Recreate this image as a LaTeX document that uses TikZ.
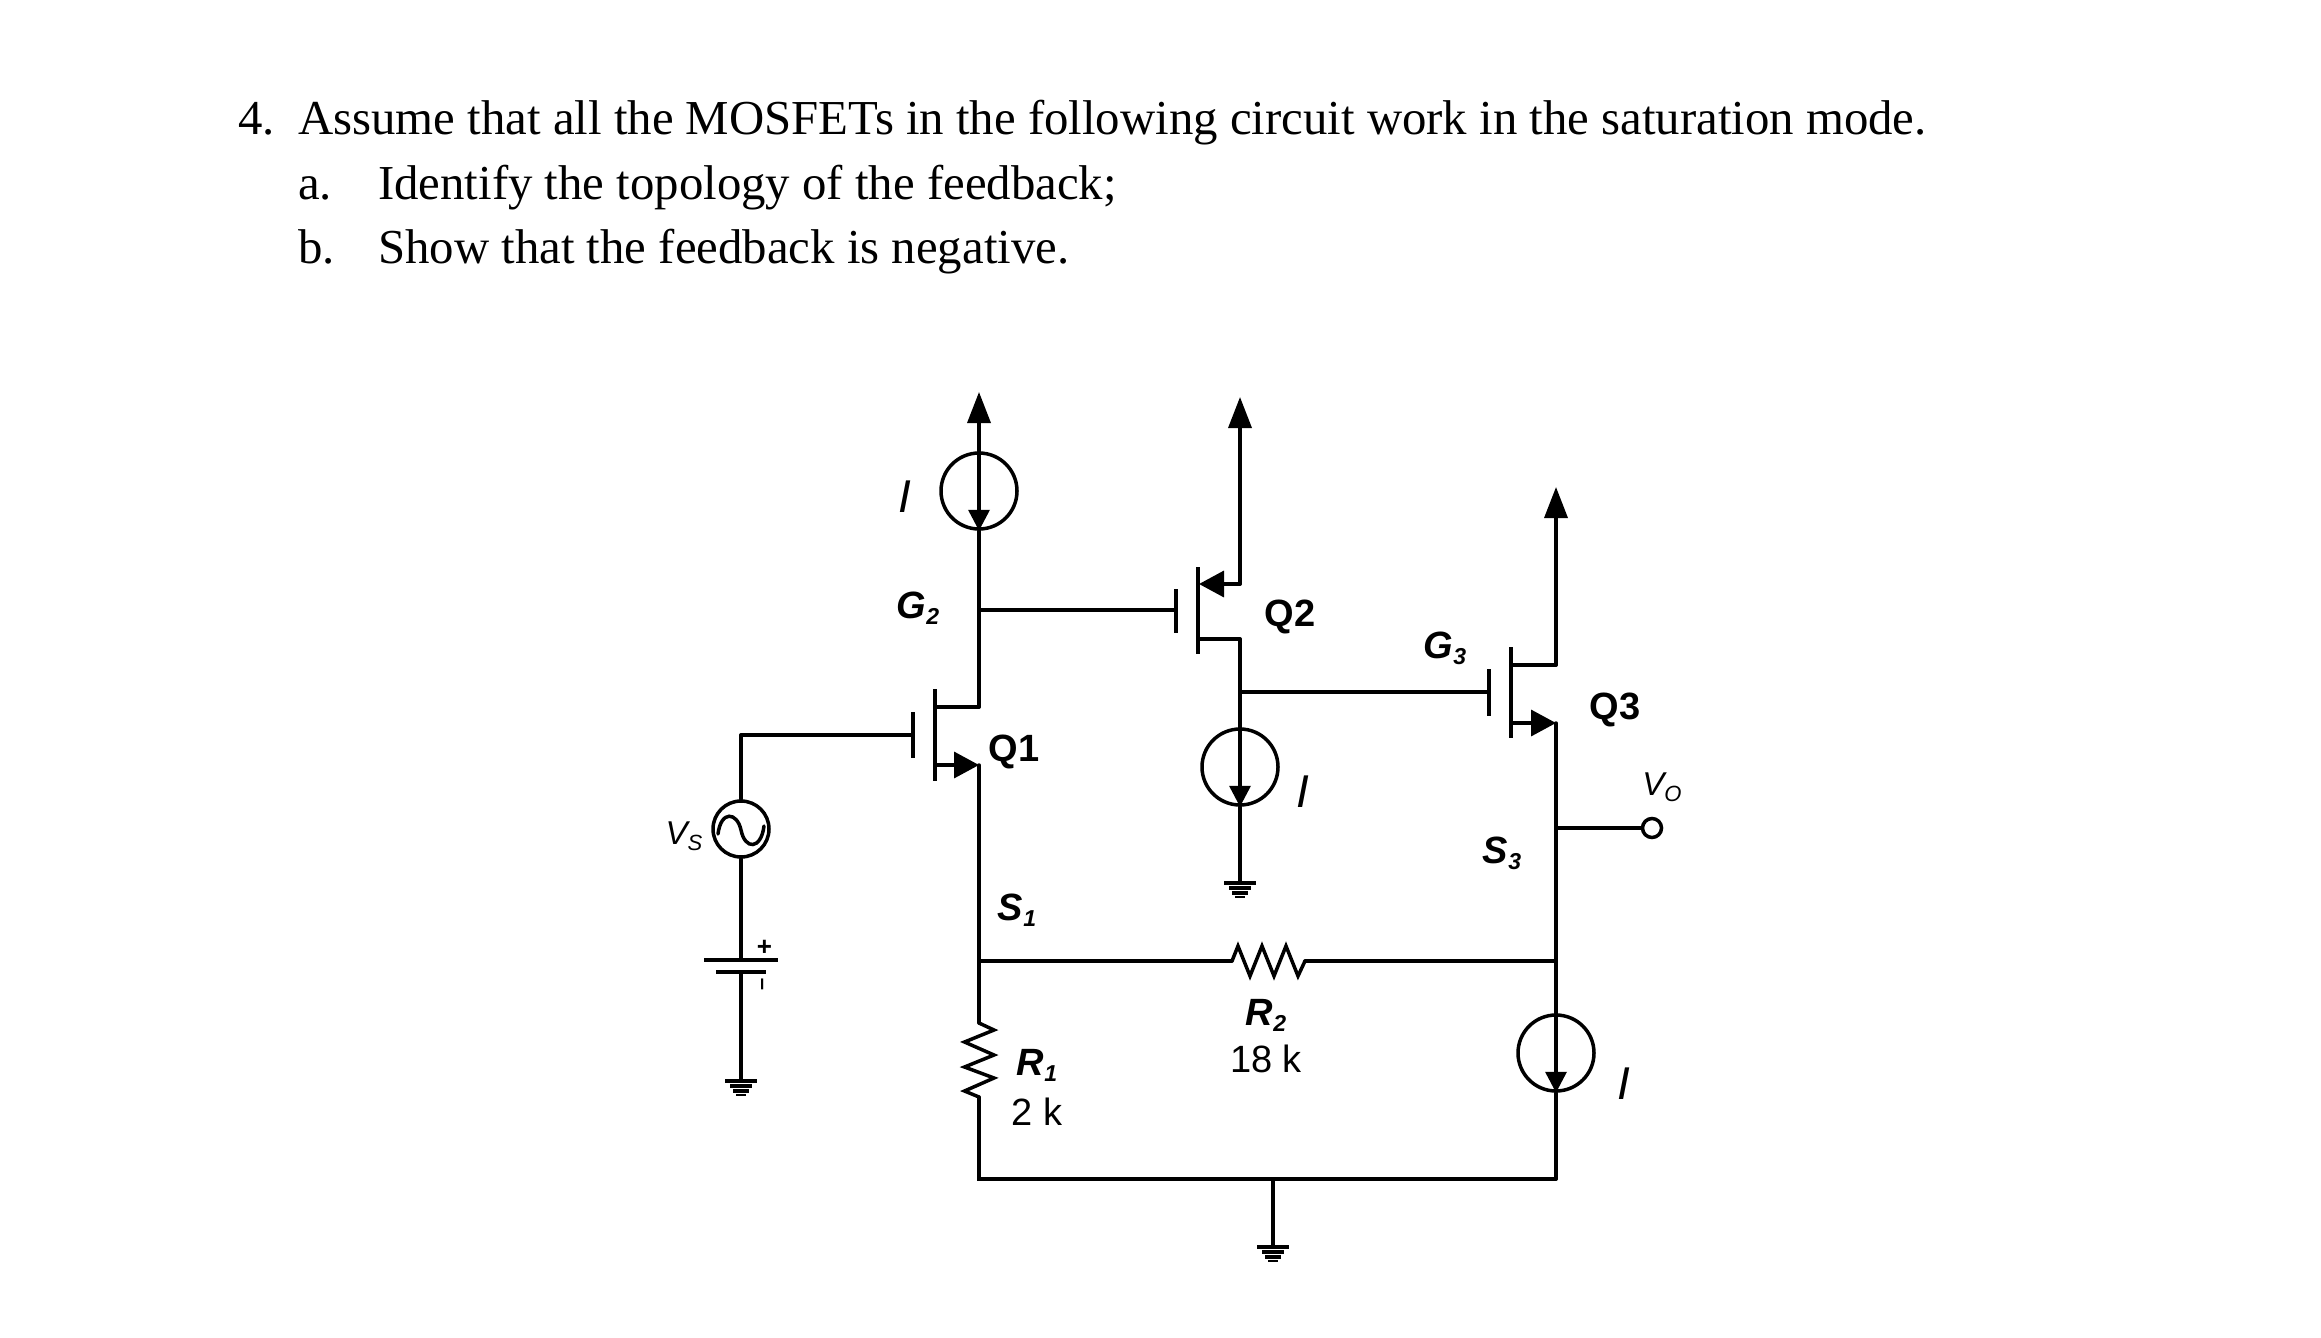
\documentclass[tikz,border=0pt]{standalone}
\usepackage{fontspec}
\setmainfont{Liberation Serif}
\setsansfont{Liberation Sans}
\usetikzlibrary{arrows.meta}
\newcommand{\subfont}{\fontsize{23}{26}\selectfont}
\newcommand{\bsub}[2]{{\fontsize{38}{40}\selectfont\sffamily\bfseries\itshape #1\raisebox{-6pt}{\subfont #2}}}
\newcommand{\vsub}[2]{{\fontsize{33}{36}\selectfont\sffamily\itshape #1\raisebox{-6pt}{\fontsize{22}{24}\selectfont #2}}}
\tikzset{
  x=1pt,y=-1pt,
  wire/.style={line width=3.5pt,line cap=round,line join=miter,black},
  plate/.style={line width=3.7pt,black},
  supply/.style={wire,-{Triangle[length=31pt,width=23pt]}},
  inner tip/.style={wire,-{Triangle[length=21pt,width=21pt]}},
  fet tip/.style={wire,-{Triangle[length=25pt,width=26pt]}},
  csrc/.style={circle,draw,line width=3.5pt,minimum size=76pt,inner sep=0pt},
  acsrc/.style={circle,draw,line width=3.5pt,minimum size=56pt,inner sep=0pt},
  term/.style={circle,draw,line width=3.5pt,minimum size=19pt,inner sep=0pt,fill=white},
  body/.style={font=\fontsize{48.8}{52}\selectfont,anchor=base west,inner sep=0pt},
  qlabel/.style={font=\fontsize{38}{40}\selectfont\sffamily\bfseries,inner sep=0pt},
  val/.style={font=\fontsize{38}{40}\selectfont\sffamily,inner sep=0pt},
  ilabel/.style={font=\fontsize{46}{50}\selectfont\sffamily\itshape,inner sep=0pt},
  sign/.style={font=\fontsize{26}{28}\selectfont\sffamily\bfseries,inner sep=0pt},
  gndsym/.pic={
    \draw[line width=3.5pt] (-16,0) -- (16,0);
    \draw[line width=3.2pt] (-11,5) -- (11,5);
    \draw[line width=3.2pt] (-8,10) -- (8,10);
    \draw[line width=2.5pt] (-5,14) -- (5,14);
  }
}
\begin{document}
\begin{tikzpicture}
\path[use as bounding box,fill=white] (0,0) rectangle (2321,1338);

% question text
\node[body] (n4) at (238,134) {4.};
\node[body] (l1) at (298,134) {Assume that all the MOSFETs in the following circuit work in the saturation mode.};
\node[body] (na) at (298,199) {a.};
\node[body] (l2) at (378,199) {Identify the topology of the feedback;};
\node[body] (nb) at (298,263) {b.};
\node[body] (l3) at (378,263) {Show that the feedback is negative.};

% named points
\coordinate (sup1) at (979,392);
\coordinate (sup2) at (1240,397);
\coordinate (sup3) at (1556,487);
\node[csrc] (I1) at (979,491) {};
\node[csrc] (I2) at (1240,767) {};
\node[csrc] (I3) at (1556,1053) {};
\node[acsrc] (VS) at (741,829) {};
\node[term] (VO) at (1652,828) {};

\coordinate (g2node) at (979,610);
\coordinate (q1g) at (913,735);
\coordinate (q1ch) at (935,735);
\coordinate (q1d) at (979,707);
\coordinate (q1di) at (935,707);
\coordinate (q1s) at (979,765);
\coordinate (q1si) at (935,765);
\coordinate (q1gc) at (741,735);

\coordinate (q2g) at (1176,610);
\coordinate (q2s) at (1240,584);
\coordinate (q2si) at (1199,584);
\coordinate (q2d) at (1240,639);
\coordinate (q2di) at (1198,639);

\coordinate (g3node) at (1240,692);
\coordinate (q3g) at (1489,692);
\coordinate (q3d) at (1556,665);
\coordinate (q3di) at (1511,665);
\coordinate (q3s) at (1556,723);
\coordinate (q3si) at (1511,723);
\coordinate (vonode) at (1556,828);

\coordinate (s1node) at (979,961);
\coordinate (s3node) at (1556,961);
\coordinate (r2a) at (1232,961);
\coordinate (r2b) at (1305,961);
\coordinate (r1a) at (979,1023);
\coordinate (r1b) at (979,1097);
\coordinate (botl) at (979,1179);
\coordinate (botr) at (1556,1179);
\coordinate (botm) at (1273,1179);

\coordinate (batp) at (741,960);
\coordinate (batn) at (741,972);
\coordinate (g1) at (741,1081);
\coordinate (g2) at (1240,883);
\coordinate (g3) at (1273,1247);

% Q1
\draw[plate] (913,712) -- (913,758);
\draw[plate] (935,689) -- (935,781);
\draw[wire] (q1gc) -- (q1g);
\draw[wire] (q1di) -- (q1d);
\draw[fet tip] (q1si) -- (q1s);
% Q2
\draw[plate] (1176,589) -- (1176,633);
\draw[plate] (1198,567) -- (1198,654);
\draw[wire] (g2node) -- (q2g);
\draw[fet tip] (q2s) -- (q2si);
\draw[wire] (q2di) -- (q2d);
% Q3
\draw[plate] (1489,669) -- (1489,716);
\draw[plate] (1511,647) -- (1511,738);
\draw[wire] (g3node) -- (q3g);
\draw[wire] (q3di) -- (q3d);
\draw[fet tip] (q3si) -- (q3s);

% column Q1
\draw[supply] (I1.north) -- (sup1);
\draw[inner tip] (I1.north) -- (I1.south);
\draw[wire] (I1.south) -- (q1d);
\draw[wire] (q1s) -- (s1node);
\draw[wire] (s1node) -- (r1a);
\draw[wire] (r1a) -- (994,1030) -- (964.5,1042) -- (994,1055) -- (964.5,1067) -- (994,1078) -- (964.5,1091) -- (r1b);
\draw[wire] (r1b) -- (botl) -- (botr);
% column Q2
\draw[supply] (q2s) -- (sup2);
\draw[wire] (q2d) -- (I2.north);
\draw[inner tip] (I2.north) -- (I2.south);
\draw[wire] (I2.south) -- (g2);
\pic at (g2) {gndsym};
% column Q3
\draw[supply] (q3d) -- (sup3);
\draw[wire] (q3s) -- (I3.north);
\draw[inner tip] (I3.north) -- (I3.south);
\draw[wire] (I3.south) -- (botr);
\draw[wire] (vonode) -- (VO);
% feedback
\draw[wire] (s1node) -- (r2a);
\draw[wire] (r2a) -- (1238,946) -- (1250,976) -- (1262,946) -- (1274,976) -- (1286,946) -- (1298,976) -- (r2b);
\draw[wire] (r2b) -- (s3node);
% ground of the loop
\draw[wire] (botm) -- (g3);
\pic at (g3) {gndsym};
% input
\draw[wire] (q1gc) -- (VS.north);
\draw[wire] (VS.south) -- (batp);
\draw[wire] (718,834) .. controls (721,810) and (737,812) .. (741,830) .. controls (745,850) and (761,850) .. (764,826);
\draw[plate] (704,960) -- (777.5,960);
\draw[plate] (716,972) -- (766,972);
\draw[wire] (batn) -- (g1);
\pic at (g1) {gndsym};
\node[sign] (plus) at (764.5,948) {+};
\node[sign,rotate=90] (minus) at (764.5,984) {\fontsize{22}{24}\selectfont\textendash};

% labels
\node[ilabel] (Ia) at (905,497) {I};
\node[ilabel] (Ib) at (1303,792) {I};
\node[ilabel] (Ic) at (1624,1084) {I};
\node[qlabel] (Q1) at (1014,752) {Q1};
\node[qlabel] (Q2) at (1290,617) {Q2};
\node[qlabel] (Q3) at (1615,710) {Q3};
\node[inner sep=0pt] (G2) at (918,608) {\bsub{G}{2}};
\node[inner sep=0pt] (G3) at (1445,648) {\bsub{G}{3}};
\node[inner sep=0pt] (S1) at (1017,910) {\bsub{S}{1}};
\node[inner sep=0pt] (S3) at (1502,853) {\bsub{S}{3}};
\node[inner sep=0pt] (R1) at (1037,1065) {\bsub{R}{1}};
\node[inner sep=0pt] (R2) at (1266,1015) {\bsub{R}{2}};
\node[val] (v18) at (1266,1059) {18 k};
\node[val] (v2) at (1037,1112) {2 k};
\node[inner sep=0pt] (VSl) at (684,836) {\vsub{V}{S}};
\node[inner sep=0pt] (VOl) at (1662,787) {\vsub{V}{O}};
\end{tikzpicture}
\end{document}
